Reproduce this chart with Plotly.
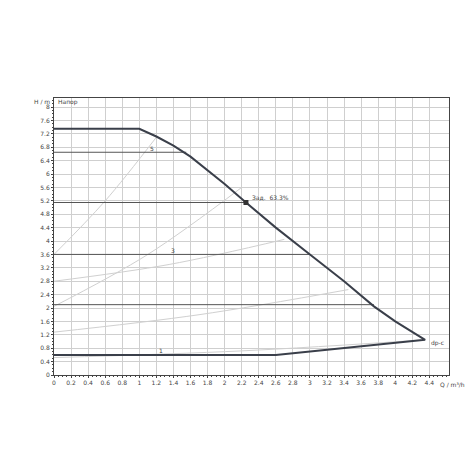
import plotly.graph_objects as go

# main pump curve (max speed)
curve_q = [0, 1.0, 1.2, 1.4, 1.6, 1.8, 2.0, 2.25, 2.6, 3.0, 3.4, 3.75, 4.0, 4.35, 2.6, 0]
curve_h = [7.35, 7.35, 7.12, 6.85, 6.52, 6.12, 5.7, 5.15, 4.4, 3.6, 2.8, 2.05, 1.6, 1.05, 0.6, 0.6]

# constant-pressure settings
level_h = [6.65, 5.15, 3.6, 2.1]
level_q = [1.55, 2.25, 3.0, 3.75]
level_lbl = ["5", "", "3", ""]

# light system curves
sys_curves = [
    ([0, 0.6, 1.2], [3.6, 5.2, 7.1]),
    ([0, 1.1, 2.2], [2.05, 3.6, 5.6]),
    ([0, 1.35, 2.7], [2.8, 3.3, 4.05]),
    ([0, 1.7, 3.45], [1.28, 1.8, 2.55]),
    ([0, 2.2, 4.35], [0.52, 0.72, 1.05]),
]

duty_q, duty_h = 2.25, 5.15

fig = go.Figure()
for xs, ys in sys_curves:
    fig.add_trace(go.Scatter(x=xs, y=ys, mode="lines", line=dict(color="#d0d0d0", width=1, shape="spline")))
for h, q in zip(level_h, level_q):
    fig.add_trace(go.Scatter(x=[0, q], y=[h, h], mode="lines", line=dict(color="#555", width=1)))
fig.add_trace(go.Scatter(x=curve_q, y=curve_h, mode="lines", line=dict(color="#3a3f4a", width=2)))
fig.add_trace(go.Scatter(x=[duty_q], y=[duty_h], mode="markers",
                         marker=dict(symbol="square", size=5, color="#333")))

small = dict(size=6, color="#444", family="DejaVu Sans")
for h, lbl in zip(level_h, level_lbl):
    if lbl:
        fig.add_annotation(x=1.4 if lbl == "3" else 1.15, y=h, text=lbl, showarrow=False, yshift=4, font=small)
fig.add_annotation(x=1.25, y=0.6, text="1", showarrow=False, yshift=4, font=small)
fig.add_annotation(x=duty_q + 0.05, y=duty_h, text="Зад.  63.3%", showarrow=False,
                   xanchor="left", yshift=5, font=small)
fig.add_annotation(x=4.4, y=0.95, text="dp-c", showarrow=False, xanchor="left", font=small)
fig.add_annotation(x=0.02, y=8.15, text="Напор", showarrow=False, xanchor="left", font=small)
fig.add_annotation(x=0, y=8.17, text="H / m", showarrow=False, xanchor="right",
                   xshift=-2, font=small)
fig.add_annotation(x=4.5, y=0, text="Q / m³/h", showarrow=False, xanchor="left",
                   yshift=-9, font=small)

fig.update_xaxes(range=[0, 4.63], tickvals=[i * 0.2 for i in range(23)],
                 ticktext=[f"{i * 0.2:g}" for i in range(23)], showgrid=True,
                 gridcolor="#cfcfcf", gridwidth=1, zeroline=False, showline=True,
                 linecolor="#444", mirror=True, ticks="outside", ticklen=2, automargin=False,
                 tickfont=small, minor=dict(dtick=0.05, ticks="outside", ticklen=1, showgrid=False))
fig.update_yaxes(range=[0, 8.27], dtick=0.4, showgrid=True, gridcolor="#cfcfcf",
                 zeroline=False, showline=True, linecolor="#444", mirror=True,
                 ticks="outside", ticklen=2, tickfont=small, automargin=False,
                 minor=dict(dtick=0.1, ticks="outside", ticklen=1, showgrid=False))
fig.update_layout(width=474, height=474, showlegend=False, plot_bgcolor="white",
                  paper_bgcolor="white", margin=dict(l=46, r=33, t=90, b=107))
fig.write_html("out.html")
